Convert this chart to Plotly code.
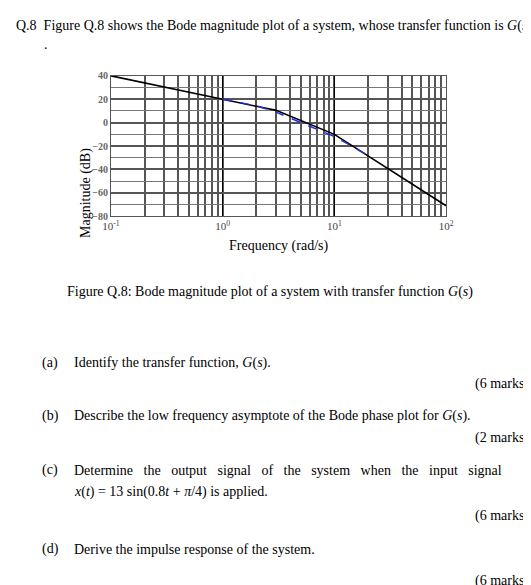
import plotly.graph_objects as go

# asymptotic (black) and actual (blue dashed) magnitude
w_asym = [0.1, 1, 3, 10, 100]
mag_asym = [40, 20, 10.5, -10, -71]
w_act = [1, 1.5, 2, 3, 4, 5, 6, 8, 10, 12, 15, 20]
mag_act = [20, 17, 14.5, 9, 4, 0.5, -2.5, -7.5, -12, -16, -21, -28]

xtick_vals = [0.1, 1, 10, 100]
xtick_text = ["10<sup>-1</sup>", "10<sup>0</sup>", "10<sup>1</sup>", "10<sup>2</sup>"]
ytick_vals = [40, 20, 0, -20, -40, -60, -80]

serif = "Liberation Serif"
fig = go.Figure()
fig.add_trace(go.Scatter(x=w_asym, y=mag_asym, mode="lines",
                         line=dict(color="black", width=1.6)))
fig.add_trace(go.Scatter(x=w_act, y=mag_act, mode="lines",
                         line=dict(color="#1f2fe0", width=1.4, dash="dash")))

fig.update_layout(
    width=531, height=585, margin=dict(l=0, r=0, t=0, b=0, autoexpand=False),
    paper_bgcolor="white", plot_bgcolor="white", showlegend=False,
    font=dict(family=serif, color="black"),
    xaxis=dict(type="log", range=[-1, 2], domain=[0.194, 0.825], automargin=False,
               tickvals=xtick_vals, ticktext=xtick_text,
               showgrid=True, gridcolor="black", gridwidth=1,
               minor=dict(dtick="D1", showgrid=True, gridcolor="#555", gridwidth=2, ticks=""),
               tickfont=dict(size=11, color="#444", family=serif), ticks="", showline=True,
               linecolor="#555", mirror=True, zeroline=False),
    yaxis=dict(range=[-80, 40], domain=[0.644, 0.884], tickvals=ytick_vals, automargin=False,
               showgrid=True, gridcolor="#555", gridwidth=2,
               minor=dict(dtick=10, showgrid=True, gridcolor="#777", gridwidth=1, ticks=""),
               tickfont=dict(size=10, color="#666", family=serif, weight="bold"),
               ticks="", showline=True, linecolor="#555", mirror=True, zeroline=False),
)

def txt(x, y, s, size=14, anchor="left"):
    fig.add_annotation(x=x / 531, y=1 - y / 585, xref="paper", yref="paper",
                       text=s, showarrow=False, xanchor=anchor, yanchor="middle",
                       font=dict(family=serif, size=size, color="black"))

G = "<i>G</i>(<i>s</i>)"
txt(6, 18, "Q.8  Figure Q.8 shows the Bode magnitude plot of a system, whose transfer function is " + G)
txt(34, 36, ".")
txt(270, 238, "Frequency (rad/s)", 14, "center")
fig.add_annotation(x=68 / 531, y=1 - 138 / 585, xref="paper", yref="paper",
                   text="Magnitude (dB)", showarrow=False, textangle=-90,
                   font=dict(family=serif, size=14, color="black"))
txt(262, 284, "Figure Q.8: Bode magnitude plot of a system with transfer function " + G, 14, "center")
txt(32, 355, "(a)")
txt(64, 355, "Identify the transfer function, " + G + ".")
txt(523, 376, "(6 marks)", 14, "right")
txt(32, 408, "(b)")
txt(64, 408, "Describe the low frequency asymptote of the Bode phase plot for " + G + ".")
txt(523, 430, "(2 marks)", 14, "right")
txt(32, 462, "(c)")
txt(64, 462, "Determine&nbsp;&nbsp; the&nbsp;&nbsp; output&nbsp;&nbsp; signal&nbsp;&nbsp; of&nbsp;&nbsp; the&nbsp;&nbsp; system&nbsp;&nbsp; when&nbsp;&nbsp; the&nbsp;&nbsp; input&nbsp;&nbsp; signal")
txt(64, 484, "<i>x</i>(<i>t</i>) = 13 sin(0.8<i>t</i> + <i>π</i>/4) is applied.")
txt(523, 508, "(6 marks)", 14, "right")
txt(32, 541, "(d)")
txt(64, 541, "Derive the impulse response of the system.")
txt(523, 573, "(6 marks)", 14, "right")

fig.write_html("out.html")
